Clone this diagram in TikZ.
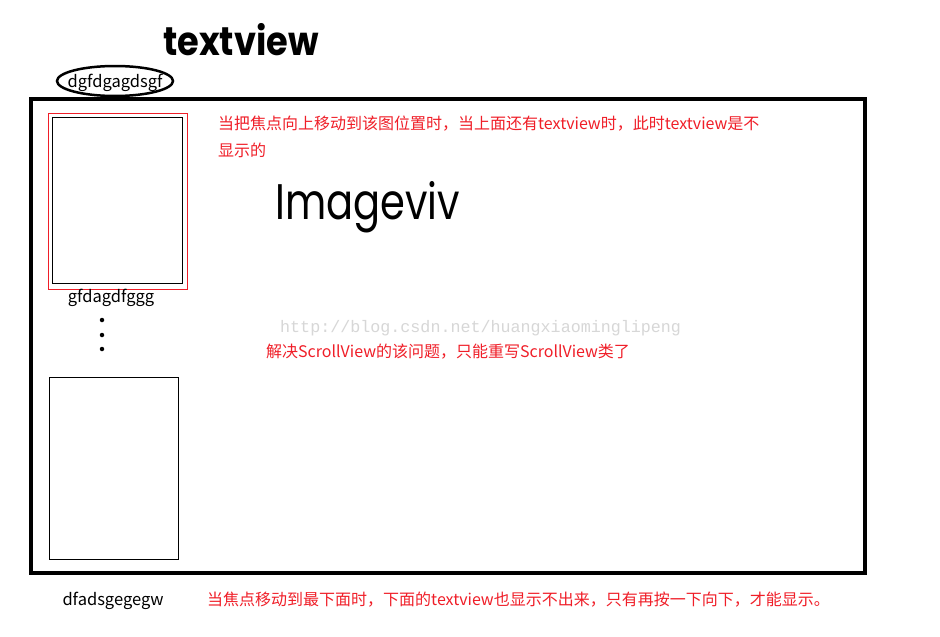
\documentclass[tikz,border=0pt]{standalone}
\usetikzlibrary{shapes.geometric}
\usepackage{fontspec}
\setmainfont{Noto Sans}
\newfontfamily\cjk{Noto Sans CJK SC}
\newfontfamily\hand{Poppins}
\newfontfamily\wmfont{Liberation Mono}
\definecolor{notered}{RGB}{240,30,40}
\definecolor{wmgray}{RGB}{215,215,215}
\begin{document}
\begin{tikzpicture}[x=1pt,y=-1pt,
  redtxt/.style={inner sep=0pt,anchor=west,text=notered,font=\cjk\fontsize{16}{18}\selectfont},
  lbl/.style={inner sep=0pt,font=\cjk\fontsize{16.5}{18}\selectfont},
  thinbox/.style={draw=black,line width=1pt},
  dotmark/.style={circle,fill=black,inner sep=0pt,minimum size=4.5pt}]
\useasboundingbox (0,0) rectangle (940,637);
\fill[white] (0,0) rectangle (940,637);
% main frame
\node[draw=black,line width=4pt,inner sep=0pt,minimum width=834pt,minimum height=474pt,anchor=north west] (frame) at (29,97) {};
% handwritten textview
\node[inner sep=0pt,xscale=0.88,font=\hand\bfseries\fontsize{40}{42}\selectfont] (tv) at (241,40) {textview};
% ellipse label
\node[lbl,font=\cjk\fontsize{16.5}{18}\selectfont] (top) at (115,83) {dgfdgagdsgf};
\node[draw=black,line width=2.5pt,ellipse,minimum width=116pt,minimum height=30pt,inner sep=0pt] (ell) at (115,81) {};
% first item
\node[draw=notered,line width=1pt,inner sep=0pt,minimum width=139pt,minimum height=176pt,anchor=north west] (redbox) at (48,113) {};
\node[thinbox,inner sep=0pt,minimum width=130pt,minimum height=166pt,anchor=north west] (img1) at (52,117) {};
\node[lbl] (lab1) at (111,298) {gfdagdfggg};
\node[dotmark] (d1) at (102,320) {};
\node[dotmark] (d2) at (102,335) {};
\node[dotmark] (d3) at (102,349) {};
% second item
\node[thinbox,inner sep=0pt,minimum width=129pt,minimum height=182pt,anchor=north west] (img2) at (49,377) {};
% bottom label
\node[lbl] (lab2) at (113,601) {dfadsgegegw};
% texts
\node[redtxt] (t1) at (218,124) {当把焦点向上移动到该图位置时，当上面还有textview时，此时textview是不};
\node[redtxt] (t2) at (218,150) {显示的};
\node[inner sep=0pt,anchor=west,xscale=0.8,font=\hand\fontsize{50}{52}\selectfont] (iv) at (275,207) {Imageviv};
\node[inner sep=0pt,anchor=west,text=wmgray,font=\wmfont\fontsize{16.7}{18}\selectfont] (wm) at (280,328) {http://blog.csdn.net/huangxiaominglipeng};
\node[redtxt] (t3) at (266,352) {解决ScrollView的该问题，只能重写ScrollView类了};
\node[redtxt] (t4) at (207,600) {当焦点移动到最下面时，下面的textview也显示不出来，只有再按一下向下，才能显示。};
\end{tikzpicture}
\end{document}
